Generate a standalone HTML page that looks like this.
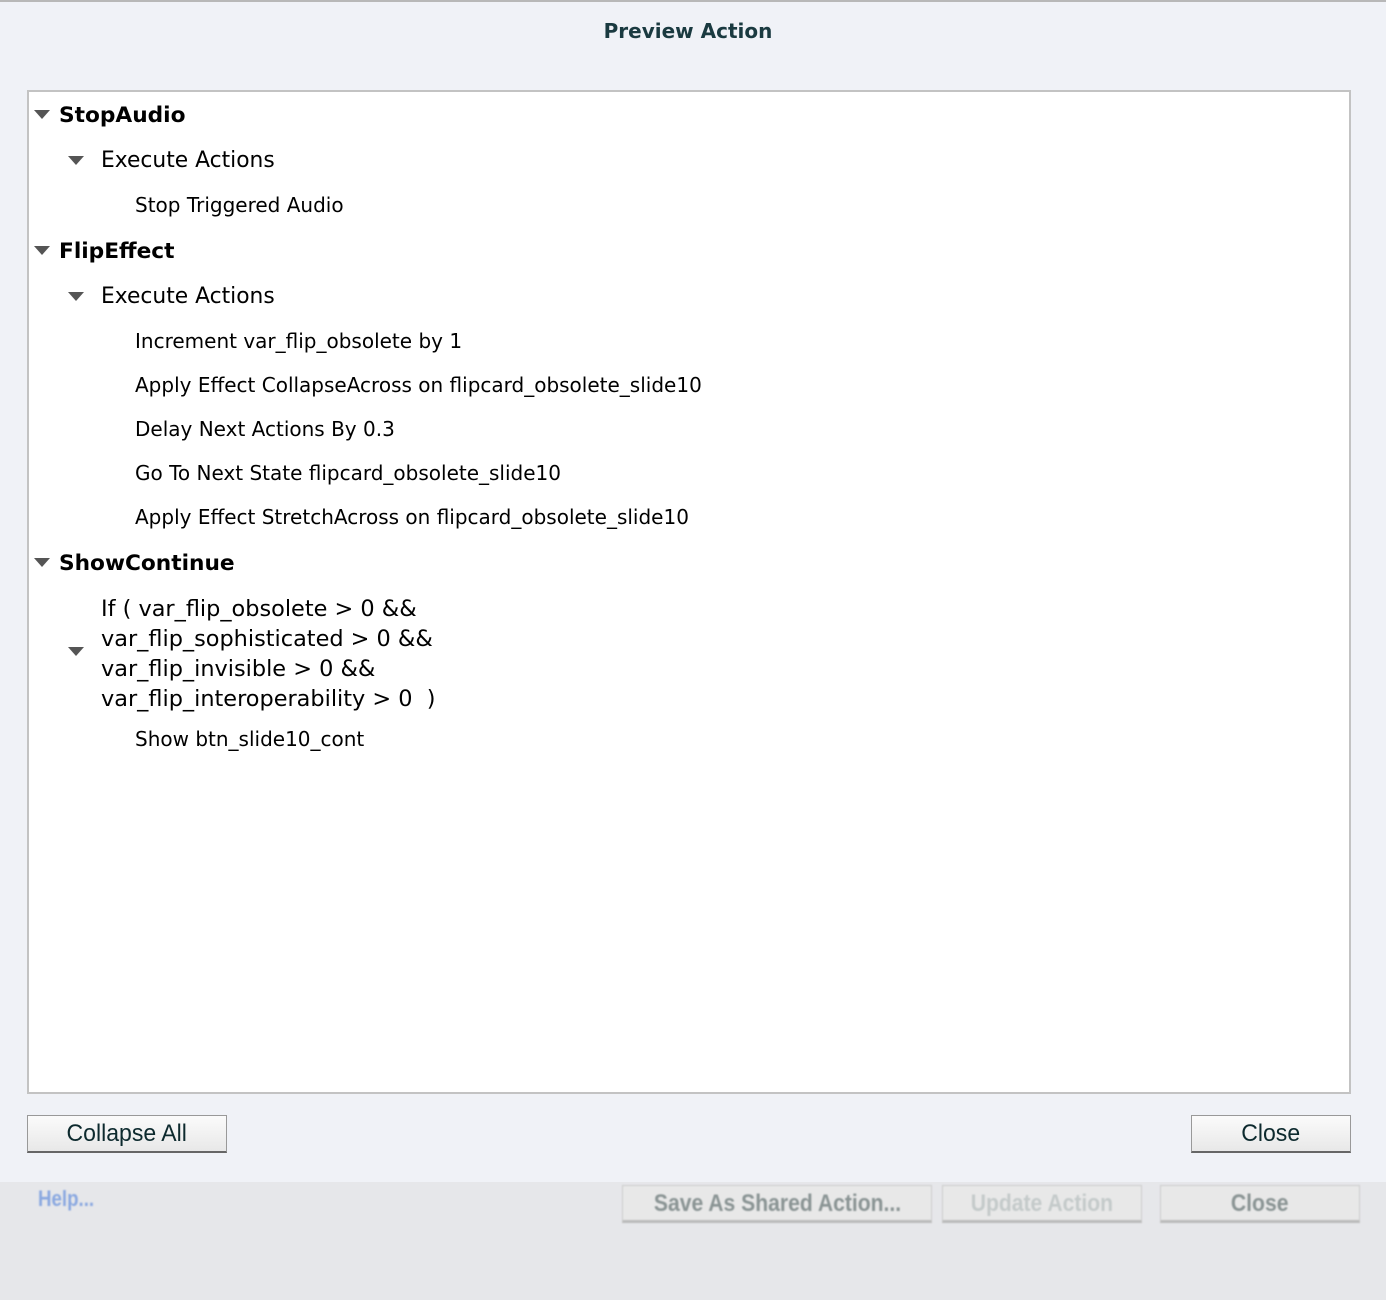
<!DOCTYPE html>
<html><head><style>
body{margin:0;width:1386px;height:1300px;background:#e6e7ea;position:relative;overflow:hidden;font-family:"DejaVu Sans","Liberation Sans",sans-serif;}
.top{position:absolute;left:0;top:0;width:1386px;height:1182px;background:#f0f2f7;border-top:2px solid #b8b8b8;box-sizing:border-box;}
.title{position:absolute;left:-10px;width:1396px;top:19px;text-align:center;font-weight:bold;font-size:20px;color:#1a3a40;}
.panel{position:absolute;left:27px;top:90px;width:1324px;height:1004px;background:#fff;border:2px solid #c3c3c3;box-sizing:border-box;}
.t{position:absolute;white-space:nowrap;color:#000;}
.h{font-weight:bold;font-size:21.7px;}
.e{font-size:21.8px;}
.i{font-size:20px;}
.c{font-size:22.4px;}
.tri{position:absolute;width:0;height:0;border-left:8px solid transparent;border-right:8px solid transparent;border-top:9px solid #555;}
.btn{position:absolute;height:38px;background:linear-gradient(#fbfbfb,#e8e8e8);border:1px solid #999;border-bottom:2px solid #666;box-sizing:border-box;font-family:"Liberation Sans",sans-serif;font-size:24px;color:#0d2a2e;text-align:center;line-height:36px;}
.btn span{display:inline-block;transform:scaleX(0.96);}
.b2{position:absolute;height:38px;background:#e8e8e8;border:1px solid #ccc;border-bottom:3px solid #bbb;box-sizing:border-box;font-family:"Liberation Sans",sans-serif;font-size:24px;font-weight:bold;color:#8a9494;text-align:center;line-height:36px;filter:blur(0.8px);}
.b2 span{display:inline-block;transform:scaleX(0.88);}
</style></head><body>
<div class="top"></div>
<div class="title">Preview Action</div>
<div class="panel"></div>
<div class="tri" style="left:34px;top:110px"></div>
<div class="t h" style="left:59px;top:103px">StopAudio</div>
<div class="tri" style="left:68px;top:156px"></div>
<div class="t e" style="left:101px;top:148px">Execute Actions</div>
<div class="t i" style="left:135px;top:193px">Stop Triggered Audio</div>
<div class="tri" style="left:34px;top:246px"></div>
<div class="t h" style="left:59px;top:239px">FlipEffect</div>
<div class="tri" style="left:68px;top:292px"></div>
<div class="t e" style="left:101px;top:284px">Execute Actions</div>
<div class="t i" style="left:135px;top:329px">Increment var_flip_obsolete by 1</div>
<div class="t i" style="left:135px;top:373px">Apply Effect CollapseAcross on flipcard_obsolete_slide10</div>
<div class="t i" style="left:135px;top:417px">Delay Next Actions By 0.3</div>
<div class="t i" style="left:135px;top:461px">Go To Next State flipcard_obsolete_slide10</div>
<div class="t i" style="left:135px;top:505px">Apply Effect StretchAcross on flipcard_obsolete_slide10</div>
<div class="tri" style="left:34px;top:558px"></div>
<div class="t h" style="left:59px;top:551px">ShowContinue</div>
<div class="tri" style="left:68px;top:647px"></div>
<div class="t c" style="left:101px;top:594px;line-height:30px">If ( var_flip_obsolete &gt; 0 &amp;&amp;<br>var_flip_sophisticated &gt; 0 &amp;&amp;<br>var_flip_invisible &gt; 0 &amp;&amp;<br>var_flip_interoperability &gt; 0 &nbsp;)</div>
<div class="t i" style="left:135px;top:727px">Show btn_slide10_cont</div>
<div class="btn" style="left:27px;top:1115px;width:200px"><span>Collapse All</span></div>
<div class="btn" style="left:1191px;top:1115px;width:160px"><span>Close</span></div>
<div class="t" style="left:38px;top:1186px;font-family:'Liberation Sans',sans-serif;font-weight:bold;font-size:22px;color:#8aa8e0;filter:blur(0.8px);transform:scaleX(0.85);transform-origin:left">Help...</div>
<div class="b2" style="left:622px;top:1185px;width:310px"><span>Save As Shared Action...</span></div>
<div class="b2" style="left:942px;top:1185px;width:200px;color:#c4caca"><span>Update Action</span></div>
<div class="b2" style="left:1160px;top:1185px;width:200px"><span>Close</span></div>
</body></html>
